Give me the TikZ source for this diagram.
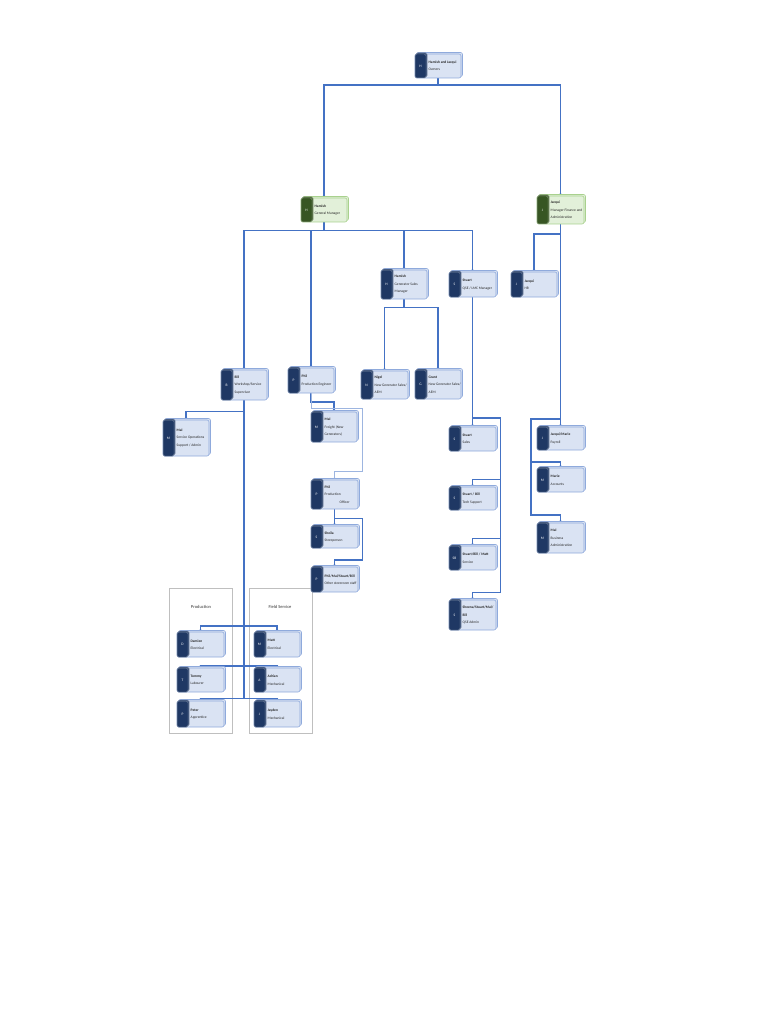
\documentclass[tikz,border=0pt]{standalone}
\usepackage{fontspec}
\setmainfont{Carlito}
\usetikzlibrary{arrows.meta,shadows,calc}
\pgfdeclarelayer{bg}
\pgfdeclarelayer{paper}
\pgfsetlayers{paper,bg,main}
\definecolor{cFill}{HTML}{DAE3F3}
\definecolor{cDraw}{HTML}{8FAADC}
\definecolor{cNavy}{HTML}{1F3864}
\definecolor{gFill}{HTML}{E2F0D9}
\definecolor{gDraw}{HTML}{A9D18E}
\definecolor{gDark}{HTML}{375623}
\definecolor{lnBlue}{HTML}{4472C4}
\definecolor{lnLight}{HTML}{9DB5E0}
\definecolor{grpGray}{HTML}{BFBFBF}
\tikzset{
  cardbase/.style={rectangle, rounded corners=2pt, inner sep=0pt, outer sep=0pt, line width=0.6pt,
    copy shadow={shadow xshift=1.5pt, shadow yshift=1.5pt}},
  cardblue/.style={cardbase, fill=cFill, draw=cDraw},
  cardgreen/.style={cardbase, fill=gFill, draw=gDraw},
  badgebase/.style={rectangle, rounded corners=1.5pt, inner sep=0pt, outer sep=0pt, minimum width=11pt,
    text=white, font=\fontsize{3.6}{4}\selectfont, line width=0.5pt,
    copy shadow={shadow xshift=1pt, shadow yshift=1pt}},
  badgeblue/.style={badgebase, fill=cNavy, draw=cNavy!60!white},
  badgegreen/.style={badgebase, fill=gDark, draw=gDark!60!white},
  cardtext/.style={inner sep=0pt, align=left, font=\fontsize{3.6}{7.5}\selectfont, text=black!85},
  conn/.style={draw=lnBlue, line width=1.1pt, -{Stealth[length=2.4pt,width=2.4pt]}},
  connlight/.style={draw=lnLight, line width=0.7pt, -{Stealth[length=2.2pt,width=2.2pt]}},
  groupbox/.style={draw=grpGray, fill=white, line width=0.5pt},
  grouplabel/.style={font=\fontsize{4.5}{5}\selectfont, text=black!80, inner sep=0pt}
}
% #1 id, #2 x1, #3 y1, #4 x2, #5 y2, #6 letter, #7 text, #8 scheme
\newcommand\orgcard[8]{%
  \node[card#8, minimum width={#4-#2}, minimum height={#5-#3}] (#1) at ({(#2+#4)/2},{(#3+#5)/2}) {};
  \node[badge#8, anchor=west, minimum height={#5-#3}] (#1b) at (#1.west) {#6};
  \node[cardtext, anchor=west] (#1t) at ([xshift=13.5pt]#1.west) {#7};
}
\begin{document}
\begin{tikzpicture}[x=1pt,y=-1pt]
\begin{pgfonlayer}{paper}
\fill[white] (0,0) rectangle (768,1024);
\end{pgfonlayer}
\useasboundingbox (0,0) rectangle (768,1024);

% group containers
\begin{pgfonlayer}{bg}
\node[groupbox, minimum width=63pt, minimum height=145pt, inner sep=0pt] (prodgrp) at (200.5,660.5) {};
\node[groupbox, minimum width=63pt, minimum height=145pt, inner sep=0pt] (fieldgrp) at (280.5,660.5) {};
\end{pgfonlayer}
\node[grouplabel] (prodlbl) at (201,607) {Production};
\node[grouplabel] (fieldlbl) at (280,607) {Field Service};

% cards
\orgcard{own}{415}{54}{461}{78}{H}{\textbf{Hamish and Jacqui}\\Owners}{blue}
\orgcard{hgm}{301}{198}{347}{222}{H}{\textbf{Hamish}\\General Manager}{green}
\orgcard{jac}{537}{196}{584}{224}{J}{\textbf{Jacqui}\\Manager Finance and\\Administration}{green}
\orgcard{hgsm}{381}{270}{427}{299}{H}{\textbf{Hamish}\\Generator Sales\\Manager}{blue}
\orgcard{stq}{449}{272}{496}{297}{S}{\textbf{Stuart}\\QSE / LMC Manager}{blue}
\orgcard{jhr}{511}{272}{557}{297}{J}{\textbf{Jacqui}\\HR}{blue}
\orgcard{nig}{361}{371}{408}{399}{N}{\textbf{Nigel}\\New Generator Sales/\\AEM}{blue}
\orgcard{gra}{415}{370}{461}{399}{G}{\textbf{Grant}\\New Generator Sales/\\AEM}{blue}
\orgcard{bil}{221}{370}{267}{400}{B}{\textbf{Bill}\\Workshop/Service\\Supervisor}{blue}
\orgcard{phe}{288}{368}{334}{393}{P}{\textbf{Phil}\\Production Engineer}{blue}
\orgcard{mso}{163}{420}{209}{456}{M}{\textbf{Mal}\\Service Operations\\Support / Admin}{blue}
\orgcard{mfr}{311}{412}{357}{442}{M}{\textbf{Mal}\\Freight (New\\Generators)}{blue}
\orgcard{ppo}{311}{480}{358}{509}{P}{\textbf{Phil}\\Production\\\hspace*{15pt}Officer}{blue}
\orgcard{she}{311}{526}{358}{548}{S}{\textbf{Sheila}\\Storeperson}{blue}
\orgcard{pms}{311}{567}{358}{592}{P}{\textbf{Phil/Mal/Stuart/Bill}\\Other storeroom staff}{blue}
\orgcard{ssa}{449}{427}{496}{451}{S}{\textbf{Stuart}\\Sales}{blue}
\orgcard{sbt}{449}{487}{496}{510}{S}{\textbf{Stuart / Bill}\\Tech Support}{blue}
\orgcard{sbs}{449}{546}{496}{570}{SB}{\textbf{Stuart/Bill / Matt}\\Service}{blue}
\orgcard{sqa}{449}{600}{496}{630}{S}{\textbf{Sheena/Stuart/Mal/}\\\textbf{Bill}\\QSE Admin}{blue}
\orgcard{jpa}{537}{427}{584}{450}{J}{\textbf{Jacqui/Marie}\\Payroll}{blue}
\orgcard{mac}{537}{468}{584}{492}{M}{\textbf{Marie}\\Accounts}{blue}
\orgcard{mba}{537}{523}{584}{553}{M}{\textbf{Mal}\\Business\\Administration}{blue}
\orgcard{dam}{177}{632}{224}{657}{D}{\textbf{Damien}\\Electrical}{blue}
\orgcard{tom}{177}{668}{224}{692}{T}{\textbf{Tommy}\\Labourer}{blue}
\orgcard{pet}{177}{701}{224}{727}{P}{\textbf{Peter}\\Apprentice}{blue}
\orgcard{mat}{254}{632}{300}{657}{M}{\textbf{Matt}\\Electrical}{blue}
\orgcard{adr}{254}{668}{300}{692}{A}{\textbf{Adrian}\\Mechanical}{blue}
\orgcard{jay}{254}{701}{300}{727}{J}{\textbf{Jayden}\\Mechanical}{blue}

% junction coordinates
\coordinate (jl1) at (531,419);
\coordinate (jl2) at (531,462);
\coordinate (jl3) at (531,515);
\coordinate (sr0) at (500.7,418);
\coordinate (sr1) at (500.7,479.3);
\coordinate (sr2) at (500.7,538.3);
\coordinate (sr3) at (500.7,592.7);
\coordinate (pl1) at (362.7,408);
\coordinate (pl2) at (362.7,471);
\coordinate (pj1) at (362.7,518.3);
\coordinate (pj2) at (362.7,560);
\coordinate (br1) at (244,626);
\coordinate (br2) at (244,666);
\coordinate (br3) at (244,698.3);

\begin{pgfonlayer}{bg}
% owners
\draw[conn] (own.south) -- ++(0,7) -| (hgm.north);
\draw[conn] (own.south) -- ++(0,7) -| (jac.north);
% general manager
\draw[conn] (hgm.south) -- ++(0,8.7) -| (bil.north);
\draw[conn] (hgm.south) -- ++(0,8.7) -| (phe.north);
\draw[conn] (hgm.south) -- ++(0,8.7) -| (hgsm.north);
\draw[conn] (hgm.south) -- ++(0,8.7) -| (stq.north);
% finance
\draw[conn] (jac.south) -- ++(0,10) -| (jhr.north);
\draw[conn] (jac.south) -- (jpa.north);
\draw[conn] (jac.south) |- (jl1) -- (jl2) -| (mac.north);
\draw[conn] (jac.south) |- (jl1) -- (jl3) -| (mba.north);
% generator sales
\draw[conn] (hgsm.south) -- ++(0,8.5) -| (nig.north);
\draw[conn] (hgsm.south) -- ++(0,8.5) -| (gra.north);
% QSE
\draw[conn] (stq.south) -- (ssa.north);
\draw[conn] (stq.south) |- (sr0) -- (sr1) -| (sbt.north);
\draw[conn] (stq.south) |- (sr0) -- (sr2) -| (sbs.north);
\draw[conn] (stq.south) |- (sr0) -- (sr3) -| (sqa.north);
% production engineer
\draw[conn] (phe.south) -- ++(0,9) -| (mfr.north);
\draw[connlight] (phe.south) |- (pl1) -- (pl2) -| (ppo.north);
\draw[conn] (ppo.south) -- (she.north);
\draw[conn] (ppo.south) |- (pj1) -- (pj2) -| (pms.north);
% workshop
\draw[conn] (bil.south) -- ++(0,11.7) -| (mso.north);
\draw[conn] (bil.south) -- (br1) -| (dam.north);
\draw[conn] (br1) -| (mat.north);
\draw[conn] (bil.south) -- (br2) -| (tom.north);
\draw[conn] (br2) -| (adr.north);
\draw[conn] (bil.south) -- (br3) -| (pet.north);
\draw[conn] (br3) -| (jay.north);
\end{pgfonlayer}
\end{tikzpicture}
\end{document}
